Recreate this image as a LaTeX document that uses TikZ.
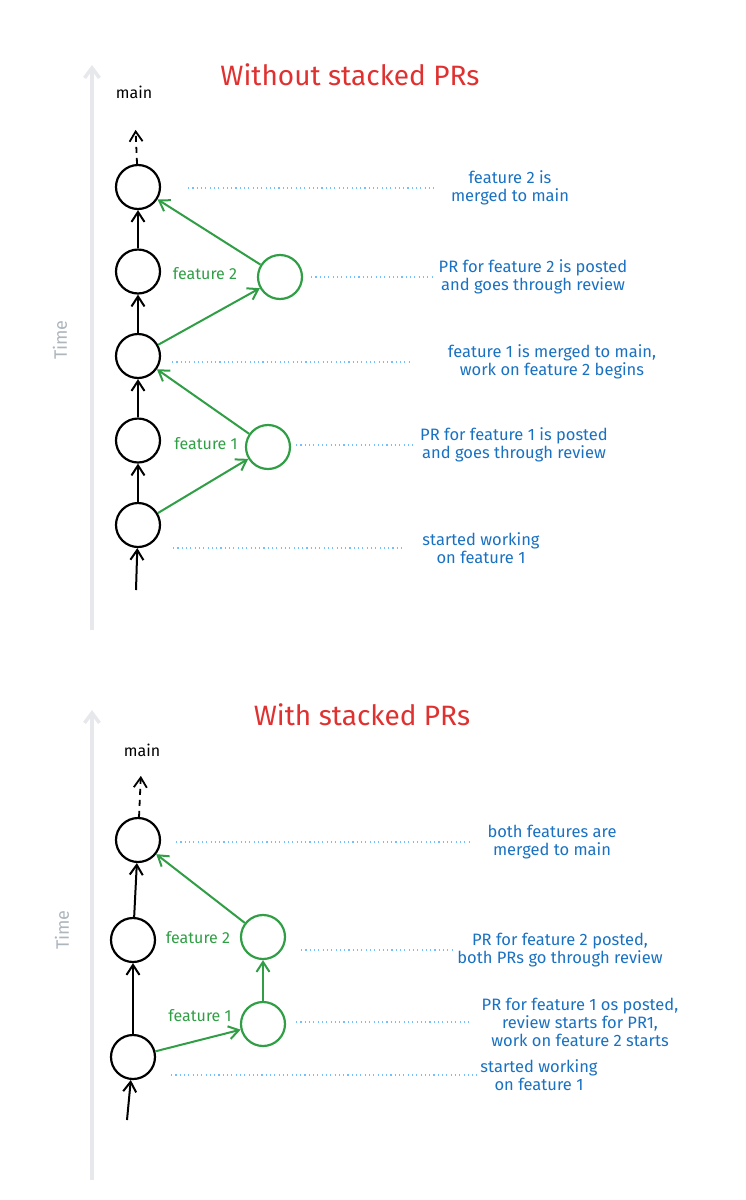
\documentclass[tikz,border=0pt]{standalone}
\usepackage{fontspec}
\setmainfont{Fira Sans}
\usetikzlibrary{positioning,arrows.meta}

\definecolor{exred}{HTML}{E03131}
\definecolor{exgreen}{HTML}{2F9E44}
\definecolor{exblue}{HTML}{1971C2}
\definecolor{guideblue}{HTML}{74C0FC}
\definecolor{axisgray}{HTML}{E6E8EB}
\definecolor{labelgray}{HTML}{ADB5BD}

\begin{document}
\begin{tikzpicture}[x=1pt, y=-1pt, node distance=84.5pt,
                    >={Straight Barb[length=10pt,width=13pt]},
                    main node/.style={circle,draw,line width=2.2pt,minimum size=44pt,inner sep=0pt},
                    feat node/.style={main node,draw=exgreen},
                    main edge/.style={->,line width=2pt},
                    feat edge/.style={->,draw=exgreen,line width=2pt},
                    head edge/.style={->,line width=1.8pt,dash pattern=on 6pt off 5pt},
                    guide/.style={guideblue,line width=1.1pt,dash pattern=on 1.1pt off 3.2pt},
                    axis/.style={axisgray,line width=3.5pt,-{Straight Barb[length=10pt,width=15pt]}},
                    title/.style={exred,font=\fontsize{28}{32}\selectfont},
                    note/.style={exblue,align=center,font=\fontsize{16.5}{18}\selectfont},
                    flabel/.style={exgreen,font=\fontsize{16}{18}\selectfont},
                    tlabel/.style={labelgray,rotate=90,font=\fontsize{18}{20}\selectfont},
                    hlabel/.style={font=\fontsize{16}{18}\selectfont}]

	\useasboundingbox (0,0) rectangle (745,1200);

	% without stacked PRs
	\draw[axis] (92,630) -- (92,65);
	\node[tlabel] (time1) at (60,340) {Time};
	\node[title] (title1) at (350,75) {Without stacked PRs};

	\node[main node] (5) at (138,525) {};
	\node[main node] (4) [above of=5] {};
	\node[main node] (3) [above of=4] {};
	\node[main node] (2) [above of=3] {};
	\node[main node] (1) [above of=2] {};
	\node[hlabel] (main1) at (134,92) {main};
	\coordinate (in1) at (136,590);

	\node[feat node] (7) at (268,447) {};
	\node[feat node] (6) at (280,277) {};
	\node[flabel] (f1) at (206,444) {feature 1};
	\node[flabel] (f2) at (205,274) {feature 2};

	\node[note] (t1) at (510,188) {feature 2 is\\merged to main};
	\node[note] (t2) at (533,277) {PR for feature 2 is posted\\and goes through review};
	\node[note] (t3) at (552,362) {feature 1 is merged to main,\\work on feature 2 begins};
	\node[note] (t4) at (514,445) {PR for feature 1 is posted\\and goes through review};
	\node[note] (t5) at (481,548) {started working\\on feature 1};

	\path
	(in1) edge[main edge] (5)
	(5) edge[main edge] (4)
	    edge[feat edge] (7)
	(4) edge[main edge] (3)
	(3) edge[main edge] (2)
	    edge[feat edge] (6)
	(2) edge[main edge] (1)
	(7) edge[feat edge] (3)
	(6) edge[feat edge] (1)
	(1) edge[head edge,shorten >=28pt] (main1)
	;

	\draw[guide] ([xshift=27pt]1.east |- t1.west) -- ([xshift=-13pt]t1.west);
	\draw[guide] ([xshift=8pt]6.east |- t2.west) -- ([xshift=-2pt]t2.west);
	\draw[guide] ([xshift=11pt]3.east |- t3.west) -- ([xshift=-35pt]t3.west);
	\draw[guide] ([xshift=5pt]7.east |- t4.west) -- ([xshift=-2pt]t4.west);
	\draw[guide] ([xshift=12pt]5.east |- t5.west) -- ([xshift=-15pt]t5.west);

	% with stacked PRs
	\draw[axis] (92,1180) -- (92,710);
	\node[tlabel] (time2) at (62,930) {Time};
	\node[title] (title2) at (362,715) {With stacked PRs};

	\node[main node] (13) at (133,1057) {};
	\node[main node] (12) [above of=13, node distance=117pt] {};
	\node[main node] (11) [above of=12, node distance=100pt, xshift=5pt] {};
	\node[hlabel] (main2) at (142,750) {main};
	\coordinate (in2) at (127,1120);

	\node[feat node] (15) at (263,1024) {};
	\node[feat node] (14) at (263,937) {};
	\node[flabel] (f3) at (200,1016) {feature 1};
	\node[flabel] (f4) at (198,938) {feature 2};

	\node[note] (t6) at (552,842) {both features are\\merged to main};
	\node[note] (t7) at (560,950) {PR for feature 2 posted,\\both PRs go through review};
	\node[note] (t8) at (580,1022) {PR for feature 1 os posted,\\review starts for PR1,\\work on feature 2 starts};
	\node[note] (t9) at (539,1075) {started working\\on feature 1};

	\path
	(in2) edge[main edge] (13)
	(13) edge[main edge] (12)
	     edge[feat edge] (15)
	(12) edge[main edge] (11)
	(15) edge[feat edge] (14)
	(14) edge[feat edge] (11)
	(11) edge[head edge,shorten >=16pt] (main2)
	;

	\draw[guide] ([xshift=15pt]11.east |- t6.west) -- ([xshift=-13pt]t6.west);
	\draw[guide] ([xshift=15pt]14.east |- t7.west) -- ([xshift=0pt]t7.west);
	\draw[guide] ([xshift=10pt]15.east |- t8.west) -- ([xshift=-8pt]t8.west);
	\draw[guide] ([xshift=15pt]13.east |- t9.west) -- ([xshift=0pt]t9.west);

\end{tikzpicture}
\end{document}
